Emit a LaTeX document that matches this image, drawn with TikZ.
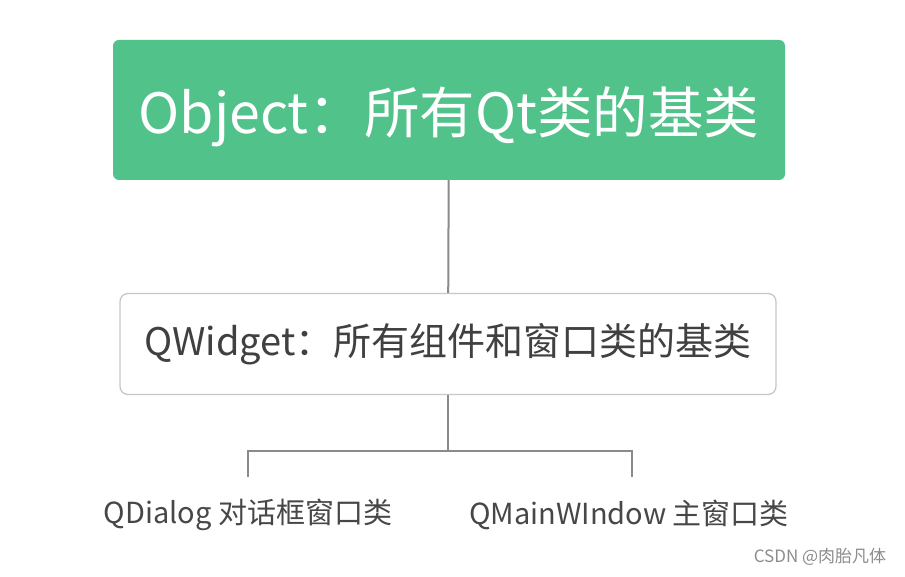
\documentclass[tikz,border=0pt]{standalone}
\usepackage{fontspec}
\setmainfont{Noto Sans CJK SC}
\usepackage{tikz}
\usetikzlibrary{positioning}
\definecolor{qtgreen}{HTML}{50C28A}
\definecolor{linkgray}{HTML}{8A8A8A}
\tikzstyle{rootbox} = [fill=qtgreen, rectangle, rounded corners=6pt,
    minimum width=672pt, minimum height=140pt, text=white,
    font=\fontsize{55.5}{60}\selectfont]
\tikzstyle{classbox} = [draw=black!22, line width=1.3pt, fill=white, rectangle,
    rounded corners=8pt, minimum width=656pt, minimum height=101pt,
    text=black!75, font=\fontsize{38}{44}\selectfont]
\tikzstyle{leaf} = [text=black!72, font=\fontsize{29}{32}\selectfont]
\tikzstyle{link} = [draw=linkgray, line width=2pt]
\tikzstyle{stamp} = [text=black!45, font=\fontsize{17}{20}\selectfont]

\begin{document}
\begin{tikzpicture}[x=1pt, y=1pt]
    \useasboundingbox (0,0) rectangle (905,577);
    \node [rootbox] (object) at (449,467) {\raisebox{-24pt}[0pt][0pt]{Object：所有Qt类的基类}};
    \node [classbox] (qwidget) at (448,233) {QWidget：所有组件和窗口类的基类};
    \node [leaf] (qdialog) at (248,62) {QDialog 对话框窗口类};
    \node [leaf] (qmainwindow) at (629,62) {QMainWIndow 主窗口类};
    \coordinate (fork) at (448,126);
    \coordinate (dialogtop) at (248,100);
    \coordinate (mainwintop) at (632,100);
    \draw [link] (object) -- (qwidget);
    \draw [link] (qwidget) -- (fork);
    \draw [link] (dialogtop) |- (fork) -| (mainwintop);
    \node [stamp] (csdn) at (820,20) {CSDN @肉胎凡体};
\end{tikzpicture}
\end{document}
